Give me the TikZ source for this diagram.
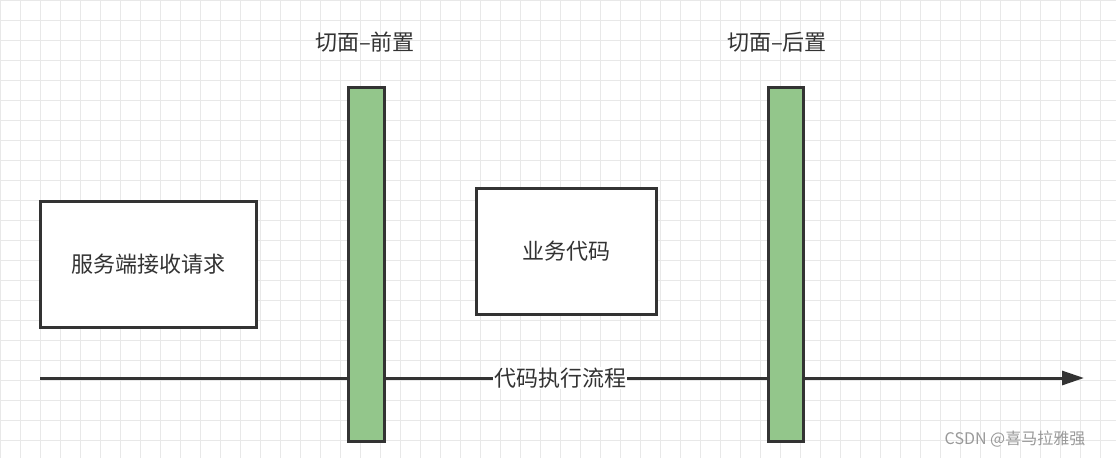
\documentclass[tikz,border=0pt]{standalone}
\usepackage{fontspec}
\setmainfont{Noto Sans CJK SC}
\usetikzlibrary{arrows.meta}
\definecolor{barg}{HTML}{93C68B}
\definecolor{ink}{HTML}{333333}
\tikzset{
  box/.style={draw=ink,line width=2.4pt,fill=white,inner sep=0pt},
  bar/.style={draw=ink,line width=2.4pt,fill=barg,inner sep=0pt},
  lbl/.style={font=\fontsize{22}{25}\selectfont,text=ink,inner sep=1pt}
}
\begin{document}
\begin{tikzpicture}[x=1pt,y=-1pt]
\useasboundingbox (0,0) rectangle (1116,458);
\fill[white] (0,0) rectangle (1116,458);
\foreach \i in {0,20,...,1116} \draw[black!9,line width=0.9pt] (\i,0) -- (\i,458);
\foreach \j in {0,20,...,458} \draw[black!9,line width=0.9pt] (0,\j) -- (1116,\j);
\coordinate (s) at (40,378);
\coordinate (e) at (1084,378);
\draw[ink,line width=3pt,-{Triangle[length=22pt,width=14pt]}] (s) -- (e);
\node[lbl,fill=white] (flow) at (560,378) {代码执行流程};
\node[box,minimum width=216pt,minimum height=126pt] (b1) at (148.5,264.5) {};
\node[lbl] at (b1) {服务端接收请求};
\node[box,minimum width=180pt,minimum height=126pt] (b2) at (566.5,251.5) {};
\node[lbl] at (b2) {业务代码};
\node[bar,minimum width=36pt,minimum height=354pt] (p1) at (366.5,264.5) {};
\node[bar,minimum width=35pt,minimum height=354pt] (p2) at (786,264.5) {};
\node[lbl] (l1) at (365,42) {切面–前置};
\node[lbl] (l2) at (777,42) {切面–后置};
\node[font=\fontsize{16}{19}\selectfont,text=black!40] (wm) at (1015,439) {CSDN @喜马拉雅强};
\end{tikzpicture}
\end{document}
